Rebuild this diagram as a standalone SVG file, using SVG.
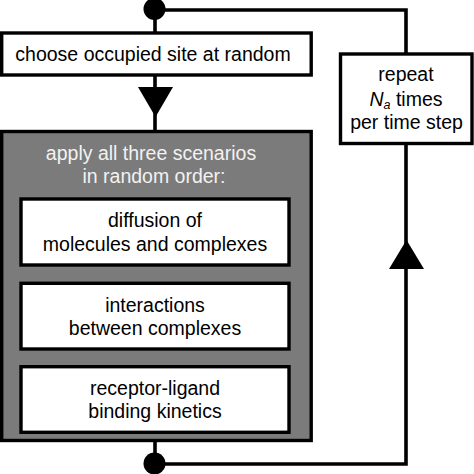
<svg xmlns="http://www.w3.org/2000/svg" width="474" height="474" viewBox="0 0 474 474">
<style>
.box{fill:#fff;stroke:#000;stroke-width:3.4}
.gray{fill:#7b7b7b;stroke:#000;stroke-width:3.4}
.line{fill:none;stroke:#000;stroke-width:3.6}
text{font-family:"Liberation Sans",Arial,sans-serif;font-size:19.5px;text-anchor:middle;fill:#000}
.light{fill:#f2f2f2}
</style>
<rect width="474" height="474" fill="#fff"/>
<g id="connectors">
<path class="line" d="M155,9 V33 M155,75 V131 M155,441 V464 M155,10 H406 V54 M155,464 H406 V143"/>
<polygon points="138,87 173,87 155.5,117" fill="#000"/>
<polygon points="406.5,240 424,269 389,269" fill="#000"/>
<circle cx="154.5" cy="9" r="11" fill="#000"/>
<circle cx="154.5" cy="463.5" r="11" fill="#000"/>
</g>
<g id="choose">
<rect class="box" x="1.7" y="33" width="309.5" height="42"/>
<text x="153" y="61">choose occupied site at random</text>
</g>
<g id="repeat">
<rect class="box" x="340.5" y="54" width="131.5" height="89.5"/>
<text x="406" y="81">repeat</text>
<text x="406" y="105.5"><tspan font-style="italic">N</tspan><tspan font-style="italic" font-size="12.5" dy="3">a</tspan><tspan dy="-3"> times</tspan></text>
<text x="406.5" y="128.5">per time step</text>
</g>
<g id="scenarios">
<rect class="gray" x="1.7" y="131.5" width="309.5" height="309"/>
<text class="light" x="151" y="160">apply all three scenarios</text>
<text class="light" x="154" y="183.3">in random order:</text>
</g>
<g id="diffusion">
<rect class="box" x="21" y="199" width="268" height="66"/>
<text x="155" y="227.3">diffusion of</text>
<text x="155" y="250.5">molecules and complexes</text>
</g>
<g id="interactions">
<rect class="box" x="21" y="283.3" width="268" height="65.7"/>
<text x="155" y="311.7">interactions</text>
<text x="155" y="335">between complexes</text>
</g>
<g id="binding">
<rect class="box" x="21" y="366.7" width="268" height="65.6"/>
<text x="155" y="395">receptor-ligand</text>
<text x="155" y="418.3">binding kinetics</text>
</g>
</svg>
